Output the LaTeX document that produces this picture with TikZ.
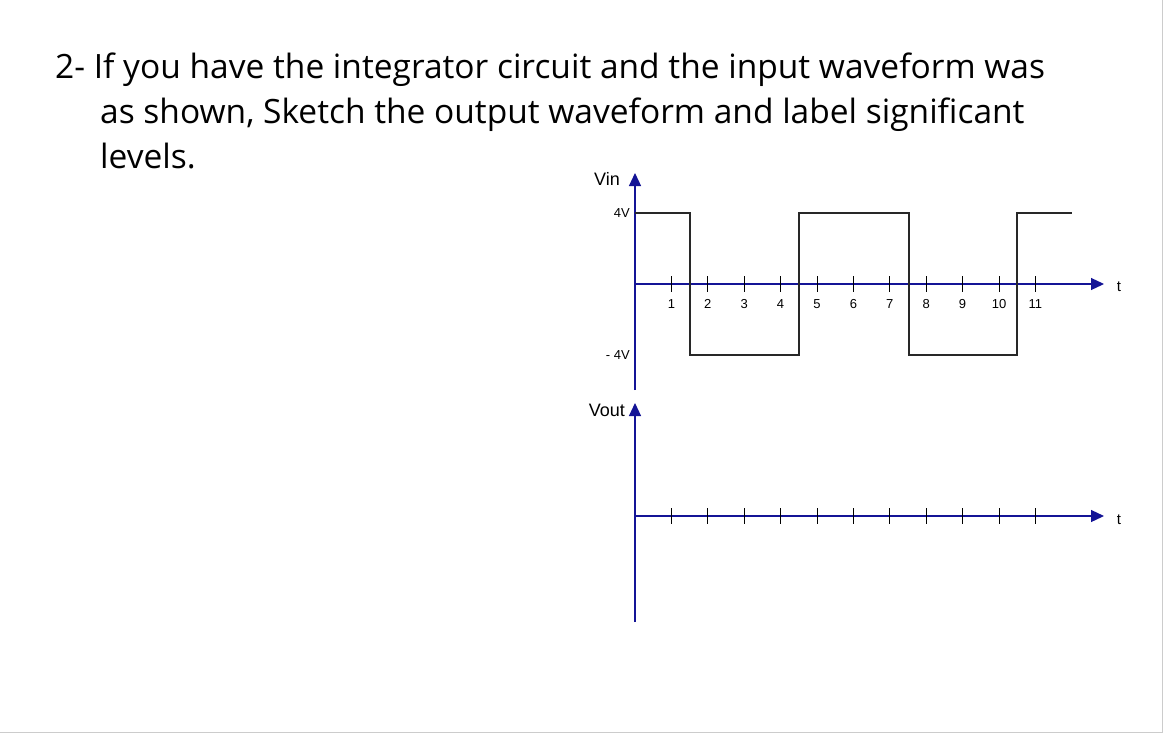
\documentclass[tikz,border=0pt]{standalone}
\usepackage{fontspec}
\setmainfont{Open Sans}
\newfontfamily\arialf{Liberation Sans}
\usetikzlibrary{arrows.meta}
\begin{document}
\begin{tikzpicture}[x=1pt,y=-1pt,
  axis/.style={draw={rgb,255:red,20;green,20;blue,150},line width=1.2pt},
  axarrow/.style={axis,-{Triangle[length=13pt,width=12pt]}},
  tick/.style={draw=black,line width=1pt},
  wave/.style={draw={rgb,255:red,40;green,40;blue,40},line width=1.3pt},
  ticklbl/.style={font=\arialf\fontsize{13}{15}\selectfont,inner sep=0pt},
  axlbl/.style={font=\arialf\fontsize{18}{20}\selectfont,inner sep=0pt},
  title/.style={font=\fontsize{33.5}{45}\selectfont,anchor=base west,inner sep=0pt}]
\useasboundingbox (0,0) rectangle (1170,740);
\fill[white] (0,0) rectangle (1170,740);
\draw[gray!40,line width=1pt] (1162,0) -- (1162,732) -- (0,732);
% title
\node[title] (l1) at (55,78) {2- If you have the integrator circuit and the input waveform was};
\node[title] (l2) at (100,123) {as shown, Sketch the output waveform and label significant};
\node[title] (l3) at (100,168) {levels.};
% Vin axes
\coordinate (vb) at (635,390);
\coordinate (vt) at (635,173);
\coordinate (h0) at (635,284);
\coordinate (ht) at (1104,284);
\draw[axarrow] (vb) -- (vt);
\draw[axarrow] (h0) -- (ht);
\node[axlbl,anchor=east] (vin) at (620,179) {Vin};
\node[ticklbl,anchor=east] (p4) at (630,213) {4V};
\node[ticklbl,anchor=east] (m4) at (630,355) {- 4V};
\node[ticklbl,font=\arialf\fontsize{15}{17}\selectfont] (tt1) at (1119,287) {t};
\foreach \i in {1,...,11}{
  \draw[tick] ({635+36.4*\i},276) -- ({635+36.4*\i},292);
  \node[ticklbl] (n\i) at ({635+36.4*\i},304) {\i};
}
\draw[wave] (635,213) -- (690,213) -- (690,355) -- (799,355) -- (799,213) -- (909,213) -- (909,355) -- (1017,355) -- (1017,213) -- (1072,213);
% Vout axes
\coordinate (wb) at (635,622);
\coordinate (wt) at (635,403);
\coordinate (g0) at (635,516);
\coordinate (gt) at (1104,516);
\draw[axarrow] (wb) -- (wt);
\draw[axarrow] (g0) -- (gt);
\node[axlbl,anchor=east] (vout) at (625,410) {Vout};
\node[ticklbl,font=\arialf\fontsize{15}{17}\selectfont] (tt2) at (1119,520) {t};
\foreach \i in {1,...,11}{
  \draw[tick] ({635+36.4*\i},508) -- ({635+36.4*\i},524);
}
\end{tikzpicture}
\end{document}
